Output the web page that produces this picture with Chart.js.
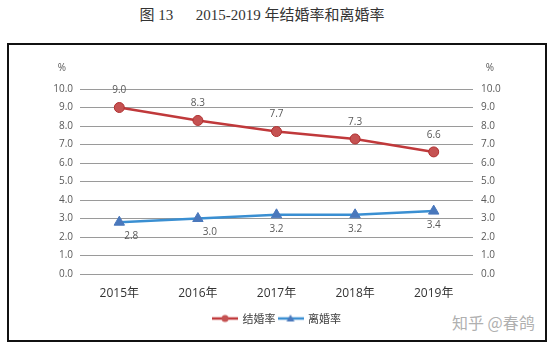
<!DOCTYPE html>
<html><head><meta charset="utf-8">
<script src="https://cdn.jsdelivr.net/npm/chart.js@4"></script>
<style>
html,body{margin:0;padding:0;background:#fff;width:554px;height:351px;overflow:hidden;}
#title{position:absolute;left:0;width:524px;top:3px;text-align:center;font-family:"Liberation Serif","Noto Sans CJK SC",serif;font-size:15px;color:#333;white-space:pre;}
#box{position:absolute;left:7px;top:43px;width:536px;height:295px;border:2px solid #111;}
#wm{position:absolute;left:452px;top:310px;font-family:"Noto Sans CJK SC",sans-serif;font-size:16px;color:#b0b0b0;white-space:pre;}
canvas{position:absolute;left:0;top:0;}
</style></head>
<body>
<div id="title">图 13      2015-2019 年结婚率和离婚率</div>
<div id="box"></div>
<div id="wm">知乎 @春鸽</div>
<canvas id="c" width="554" height="351"></canvas>
<script>
const categories = ["2015年","2016年","2017年","2018年","2019年"];
const marriageRate = [9.0, 8.3, 7.7, 7.3, 6.6];
const divorceRate = [2.8, 3.0, 3.2, 3.2, 3.4];
const seriesNames = ["结婚率","离婚率"];
const yTicks = [0,1,2,3,4,5,6,7,8,9,10];

const RED_LINE = '#c0393b', RED_PT = '#c55252', RED_BORDER = '#b03030';
const BLUE_LINE = '#3a8fd2', BLUE_PT = '#4a78bc';

function legendImg(color, ptColor, style){
  const cv = document.createElement('canvas');
  cv.width = 26; cv.height = 10;
  const g = cv.getContext('2d');
  g.strokeStyle = color; g.lineWidth = 2.5;
  g.beginPath(); g.moveTo(0,5); g.lineTo(26,5); g.stroke();
  g.fillStyle = ptColor;
  g.beginPath();
  if(style==='circle'){ g.arc(13,5,3.5,0,Math.PI*2); }
  else { g.moveTo(13,1); g.lineTo(17,8); g.lineTo(9,8); g.closePath(); }
  g.fill();
  return cv;
}
const legendImgs = [legendImg(RED_LINE,RED_PT,'circle'), legendImg(BLUE_LINE,BLUE_PT,'triangle')];

const labelPlugin = {
  id:'valLabels',
  afterDatasetsDraw(chart){
    const ctx = chart.ctx;
    ctx.save();
    ctx.font = '10px "Open Sans","Noto Sans",sans-serif';
    ctx.fillStyle = '#595959';
    ctx.textAlign = 'center'; ctx.textBaseline = 'middle';
    chart.data.datasets.forEach((ds,i)=>{
      const meta = chart.getDatasetMeta(i);
      const o = ds.labelOffset;
      meta.data.forEach((pt,j)=>{
        ctx.fillText(ds.data[j].toFixed(1), pt.x + (o.dx[j]||0), pt.y + o.dy);
      });
    });
    const ys = chart.scales.y, y2 = chart.scales.y2;
    ctx.fillText('%', 62, ys.top - 21);
    ctx.fillText('%', 490, y2.top - 21);
    ctx.restore();
  }
};

const tickFont = {family:'"Open Sans","Noto Sans",sans-serif', size:10};

new Chart(document.getElementById('c'), {
  type:'line',
  data:{
    labels: categories,
    datasets:[
      {label:seriesNames[0], data:marriageRate, borderColor:RED_LINE, borderWidth:2.5,
       pointStyle:'circle', pointRadius:5, pointBackgroundColor:RED_PT, pointBorderColor:RED_BORDER, pointBorderWidth:1,
       tension:0, yAxisID:'y', labelOffset:{dy:-17, dx:[0,0,0,0,0]}},
      {label:seriesNames[1], data:divorceRate, borderColor:BLUE_LINE, borderWidth:2.5,
       pointStyle:'triangle', pointRadius:6, pointBackgroundColor:BLUE_PT, pointBorderColor:BLUE_PT, pointBorderWidth:1,
       tension:0, yAxisID:'y', labelOffset:{dy:14, dx:[12,12,0,0,0]}}
    ]
  },
  options:{
    responsive:false, animation:false,
    layout:{padding:{top:89,left:0,right:0,bottom:17}},
    plugins:{
      tooltip:{enabled:false},
      legend:{position:'bottom',
        labels:{usePointStyle:true, pointStyleWidth:24, padding:3, color:'#404040',
          font:{family:'"Noto Sans CJK SC",sans-serif', size:11},
          generateLabels(chart){
            return chart.data.datasets.map((ds,i)=>({text:ds.label, pointStyle:legendImgs[i], fillStyle:ds.borderColor, strokeStyle:ds.borderColor, lineWidth:0, datasetIndex:i, fontColor:'#404040'}));
          }}}
    },
    scales:{
      x:{offset:true, grid:{display:false}, border:{display:false},
         ticks:{color:'#333', padding:4, font:{family:'"Open Sans","Noto Sans CJK SC",sans-serif', size:12}},
         afterFit(s){ s.height = 36; }},
      y:{position:'left', min:0, max:10, afterBuildTicks(s){ s.ticks = yTicks.map(v=>({value:v})); },
         ticks:{stepSize:1, padding:7, color:'#595959', font:tickFont, callback:v=>Number(v).toFixed(1)},
         grid:{color:'#9a9a9a', lineWidth:1, drawTicks:false}, border:{display:false},
         afterFit(s){ s.width = 80; }},
      y2:{position:'right', min:0, max:10, afterBuildTicks(s){ s.ticks = yTicks.map(v=>({value:v})); },
         ticks:{stepSize:1, padding:8, color:'#595959', font:tickFont, callback:v=>Number(v).toFixed(1)},
         grid:{display:false, drawTicks:false}, border:{display:false},
         afterFit(s){ s.width = 81; }}
    }
  },
  plugins:[labelPlugin]
});
</script>
</body></html>
